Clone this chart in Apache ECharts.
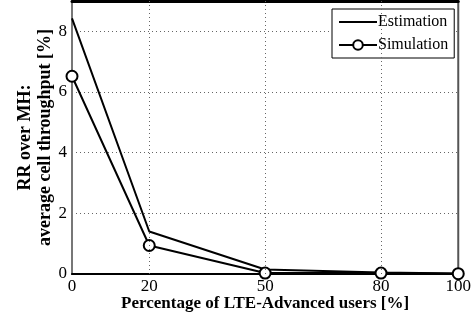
<!DOCTYPE html>
<html>
<head>
<meta charset="utf-8">
<script src="https://cdn.jsdelivr.net/npm/echarts@6/dist/echarts.min.js"></script>
<style>
  html, body { margin: 0; padding: 0; background: #fff; }
  #chart { width: 474px; height: 335px; }
</style>
</head>
<body>
<div id="chart"></div>
<script>
// Share of LTE-Advanced users (%)
const userShare = [0, 20, 50, 80, 100];
// Gain of RR over MH in average cell throughput (%)
const estimation = [8.43, 1.40, 0.15, 0.05, 0.02];
const simulation = [6.52, 0.94, 0.03, 0.03, 0.01];
const xTickLabels = [0, 20, 50, 80, 100];
const xGridValues = [20, 50, 80];

const serif = '"Liberation Serif", "Times New Roman", serif';
const chart = echarts.init(document.getElementById('chart'));

const pairs = arr => userShare.map((x, i) => [x, arr[i]]);

chart.setOption({
  animation: false,
  backgroundColor: '#fff',
  grid: {
    left: 72, right: 13, top: 1, bottom: 61, containLabel: false,
    show: true, borderColor: '#555', borderWidth: 2, backgroundColor: 'transparent'
  },
  legend: {
    orient: 'vertical',
    left: 332, top: 9,
    width: 122,
    backgroundColor: '#fff',
    borderColor: '#000', borderWidth: 1,
    padding: [5, 6, 5, 6],
    itemGap: 7,
    itemWidth: 38, itemHeight: 12,
    textStyle: { fontFamily: serif, fontSize: 16, color: '#000', padding: [0, 0, 0, -4] },
    data: [
      { name: 'Estimation', itemStyle: { opacity: 0 } },
      { name: 'Simulation' }
    ]
  },
  xAxis: [{
    type: 'value', min: 0, max: 100, interval: 10,
    axisLine: { show: true, onZero: false, lineStyle: { color: '#000', width: 2 } },
    axisTick: { show: false },
    splitLine: { show: false },
    axisLabel: {
      fontFamily: serif, fontSize: 17, color: '#000', margin: 4,
      formatter: v => xTickLabels.includes(v) ? String(v) : ''
    },
    name: 'Percentage of LTE-Advanced users [%]',
    nameLocation: 'middle', nameGap: 21, nameMoveOverlap: false,
    nameTextStyle: { fontFamily: serif, fontSize: 17, fontWeight: 'bold', color: '#000' }
  }, {
    type: 'value', min: 0, max: 100, position: 'top',
    axisLine: { show: true, onZero: false, lineStyle: { color: '#000', width: 3 } },
    axisTick: { show: false }, axisLabel: { show: false }, splitLine: { show: false }
  }],
  yAxis: [{
    type: 'value', min: 0, max: 9, interval: 2,
    axisLine: { show: true, onZero: false, lineStyle: { color: '#777', width: 2 } },
    axisTick: { show: false },
    splitLine: { show: true, lineStyle: { color: '#666', type: [1, 3], width: 1 } },
    axisLabel: {
      fontFamily: serif, fontSize: 17, color: '#000', margin: 5,
      formatter: v => (v % 2 === 0 && v <= 8) ? String(v) : ''
    },
    name: 'RR over MH:\naverage cell throughput [%]',
    nameLocation: 'middle', nameGap: 17, nameRotate: 90, nameMoveOverlap: false,
    nameTextStyle: { fontFamily: serif, fontSize: 18, fontWeight: 'bold', color: '#000', lineHeight: 20 }
  }],
  series: [{
    name: 'Estimation',
    type: 'line',
    data: pairs(estimation),
    showSymbol: false,
    symbol: 'none',
    lineStyle: { color: '#000', width: 2 },
    itemStyle: { color: '#000' },
    markLine: {
      silent: true, symbol: 'none', label: { show: false },
      lineStyle: { color: '#666', type: [1, 3], width: 1 },
      data: xGridValues.map(v => ({ xAxis: v }))
    },
    z: 3
  }, {
    name: 'Simulation',
    type: 'line',
    data: pairs(simulation),
    symbol: 'emptyCircle',
    symbolSize: 11,
    lineStyle: { color: '#000', width: 2 },
    itemStyle: { color: '#000', borderWidth: 1.5 },
    z: 4
  }]
});
</script>
</body>
</html>
